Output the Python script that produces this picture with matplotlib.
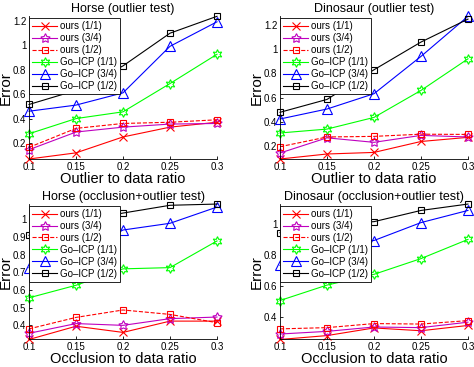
import matplotlib
matplotlib.use('Agg')
import matplotlib.pyplot as plt
from matplotlib.ticker import FormatStrFormatter

plt.rcParams['font.family'] = ['Liberation Sans', 'DejaVu Sans']

ratios = [0.1, 0.15, 0.2, 0.25, 0.3]
names = ['ours (1/1)', 'ours (3/4)', 'ours (1/2)',
         'Go\u2013ICP (1/1)', 'Go\u2013ICP (3/4)', 'Go\u2013ICP (1/2)']

# Horse (outlier test)
horse_out = [
    [0.07, 0.12, 0.25, 0.33, 0.37],
    [0.146, 0.29, 0.33, 0.355, 0.36],
    [0.165, 0.32, 0.36, 0.37, 0.39],
    [0.276, 0.40, 0.455, 0.686, 0.925],
    [0.46, 0.51, 0.61, 0.99, 1.19],
    [0.515, 0.63, 0.83, 1.097, 1.235],
]
# Dinosaur (outlier test)
dino_out = [
    [0.096, 0.137, 0.15, 0.24, 0.274],
    [0.145, 0.27, 0.233, 0.29, 0.277],
    [0.197, 0.277, 0.282, 0.30, 0.298],
    [0.31, 0.342, 0.438, 0.66, 0.92],
    [0.425, 0.507, 0.633, 0.94, 1.27],
    [0.48, 0.586, 0.83, 1.058, 1.247],
]
# Horse (occlusion+outlier test)
horse_occ = [
    [0.32, 0.395, 0.36, 0.424, 0.424],
    [0.355, 0.41, 0.40, 0.438, 0.447],
    [0.38, 0.445, 0.487, 0.462, 0.415],
    [0.556, 0.627, 0.72, 0.727, 0.878],
    [0.727, 0.80, 0.94, 0.978, 1.07],
    [0.91, 0.98, 1.036, 1.08, 1.087],
]
# Dinosaur (occlusion+outlier test)
dino_occ = [
    [0.258, 0.283, 0.332, 0.314, 0.348],
    [0.293, 0.31, 0.338, 0.334, 0.369],
    [0.326, 0.334, 0.36, 0.357, 0.379],
    [0.508, 0.607, 0.676, 0.777, 0.90],
    [0.734, 0.88, 0.893, 1.008, 1.086],
    [0.943, 1.0, 1.014, 1.086, 1.127],
]

styles = [
    dict(color='r', marker='x', ls='-', ms=6),
    dict(color='m', marker=(5, 1, 0), ls='-', ms=7),
    dict(color='r', marker='s', ls='--', ms=5),
    dict(color='#00ff00', marker=(6, 1, 0), ls='-', ms=7),
    dict(color='b', marker='^', ls='-', ms=7.5),
    dict(color='k', marker='s', ls='-', ms=5),
]

panels = [
    ('Horse (outlier test)', 'Outlier to data ratio', horse_out, [0.2, 0.4, 0.6, 0.8, 1.0, 1.2]),
    ('Dinosaur (outlier test)', 'Outlier to data ratio', dino_out, [0.2, 0.4, 0.6, 0.8, 1.0, 1.2]),
    ('Horse (occlusion+outlier test)', 'Occlusion to data ratio', horse_occ,
     [0.4, 0.5, 0.6, 0.7, 0.8, 0.9, 1.0]),
    ('Dinosaur (occlusion+outlier test)', 'Occlusion to data ratio', dino_occ, [0.4, 0.6, 0.8, 1.0]),
]

positions = [
    [0.0612, 0.5668, 0.3966, 0.3888],
    [0.5907, 0.5668, 0.3966, 0.3888],
    [0.0612, 0.0750, 0.3966, 0.3690],
    [0.5907, 0.0750, 0.3966, 0.3690],
]

fig = plt.figure(figsize=(4.74, 3.67), dpi=100)

for (title, xlabel, data, yticks), pos in zip(panels, positions):
    ax = fig.add_axes(pos)
    for vals, name, st in zip(data, names, styles):
        ax.plot(ratios, vals, label=name, color=st['color'], ls=st['ls'],
                marker=st['marker'], ms=st['ms'], mfc='none', mec=st['color'],
                lw=0.8, mew=0.8, clip_on=False)
    lo = min(min(v) for v in data)
    hi = max(max(v) for v in data)
    ax.set_xlim(0.1, 0.3)
    ax.set_ylim(lo, hi)
    ax.set_xticks(ratios)
    ax.set_xticklabels(['0.1', '0.15', '0.2', '0.25', '0.3'])
    ax.set_yticks(yticks)
    ax.yaxis.set_major_formatter(FormatStrFormatter('%g'))
    ax.tick_params(direction='in', length=2.5, width=0.6, labelsize=7, pad=2)
    for side in ['top', 'right']:
        ax.spines[side].set_visible(False)
    for side in ['left', 'bottom']:
        ax.spines[side].set_linewidth(0.6)
    ax.set_title(title, fontsize=9, pad=3)
    ax.set_xlabel(xlabel, fontsize=10.5, labelpad=0)
    ax.set_ylabel('Error', fontsize=11, labelpad=0)
    leg = ax.legend(loc='upper left', bbox_to_anchor=(0.0, 0.985), fontsize=7,
                    frameon=True, fancybox=False, framealpha=1, edgecolor='k',
                    borderaxespad=0, handlelength=2.6, handletextpad=0.3,
                    labelspacing=0.2, borderpad=0.3)
    leg.get_frame().set_linewidth(0.6)

fig.savefig('out.png', dpi=100)
